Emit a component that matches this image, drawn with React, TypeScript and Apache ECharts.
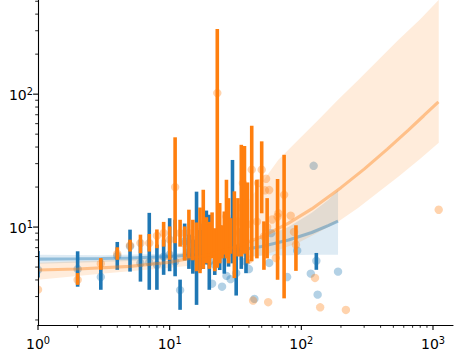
import React, { useEffect, useRef } from "react";
import * as echarts from "echarts";

const X_MIN = 1;
const X_MAX = 1419;
const Y_MIN = 1.833;
const Y_MAX = 511;

const xMajorTicks = [1, 10, 100, 1000];
const xMinorTicks = [2, 3, 4, 5, 6, 7, 8, 9, 20, 30, 40, 50, 60, 70, 80, 90, 200, 300, 400, 500, 600, 700, 800, 900];
const yMajorTicks = [10, 100];
const yMinorTicks = [2, 3, 4, 5, 6, 7, 8, 9, 20, 30, 40, 50, 60, 70, 80, 90, 200, 300, 400, 500];

// [x, mean, ciLow, ciHigh]
const blueBars: number[][] = [
  [1, 4.77, 4.3, 6.4], [2, 4.83, 3.67, 6.37], [3, 4.21, 3.48, 5.51], [4, 6.08, 4.92, 7.49],
  [5, 7.15, 4.77, 9.27], [6, 5.36, 4.01, 7.79], [7, 5.42, 3.48, 12.4], [8, 5.2, 3.48, 7.15],
  [9, 6.0, 4.51, 7.79], [10, 6.2, 4.8, 11.3], [11, 5.5, 4.4, 11.0], [12, 3.35, 2.46, 3.9],
  [13, 7.8, 5.8, 10.3], [14, 6.5, 5.0, 8.5], [15, 5.9, 4.6, 7.8], [16, 7.0, 2.68, 17.9],
  [17, 6.4, 4.9, 9.2], [18, 6.8, 5.0, 10.3], [19, 7.5, 5.4, 12.9], [20, 5.5, 3.48, 12.0],
  [22, 5.2, 4.5, 8.0], [24, 6.9, 4.9, 10.0], [26, 6.2, 4.6, 9.0], [28, 7.4, 5.2, 11.5],
  [30, 9.0, 5.5, 31], [32, 4.5, 3.15, 7.15], [35, 6.6, 5.0, 9.5], [38, 5.5, 4.64, 6.37],
  [130, 5.57, 4.92, 6.19],
];
// [x, y]
const blueSingles: number[][] = [
  [21, 3.75], [25, 3.56], [27, 4.29], [29, 4.06], [40, 4.83], [44, 2.88], [57, 5.37],
  [59, 9.0], [78, 4.21], [93, 6.64], [118, 4.46], [124, 28.9], [133, 3.1], [190, 4.62],
];

const orangeBars: number[][] = [
  [2, 4.01, 3.79, 4.37], [3, 5.3, 4.92, 5.67], [4, 6.29, 5.85, 6.83], [5, 7.27, 6.75, 7.79],
  [6, 7.58, 6.55, 8.5], [7, 7.58, 6.75, 8.6], [8, 8.6, 7.15, 9.3], [9, 9.0, 7.35, 10.6],
  [10, 8.03, 5.85, 9.8], [11, 20, 7.8, 45.9], [12, 9.0, 7.35, 11.0], [13, 7.5, 5.8, 9.8],
  [14, 9.0, 6.0, 13.1], [15, 8.0, 5.8, 11.0], [16, 7.5, 4.8, 10.5], [17, 9.2, 4.64, 13.6],
  [18, 10.5, 5.0, 18.5], [19, 8.0, 5.5, 11.5], [20, 7.4, 5.0, 10.6], [21, 8.5, 6.0, 12.5],
  [22, 6.5, 4.8, 9.5], [23, 102, 5.1, 300], [24, 9.5, 5.5, 14.7], [25, 7.5, 6.0, 10.0],
  [26, 8.5, 6.4, 12.7], [27, 12, 6.0, 22], [28, 9.5, 5.5, 16], [29, 8.0, 6.5, 11.3],
  [31, 9, 4.26, 18], [33, 11, 6.2, 16], [35, 14, 6.2, 40.3], [37, 16, 6.5, 39.5],
  [39, 10.5, 5.5, 21], [42, 27, 5.7, 56], [46, 11, 6.0, 22], [50, 27, 13.1, 42.8],
  [52, 8.5, 4.92, 10.7], [55, 10, 6.0, 16], [66, 12, 4.14, 22.3], [74, 17.5, 3.0, 33.9],
  [91, 7.36, 4.83, 10.0],
];
const orangeSingles: number[][] = [
  [1, 3.38], [36, 21.4], [40, 5.68], [43, 2.8], [47, 21.4], [53, 18.9], [54, 23.1],
  [56, 2.72], [57, 19], [60, 11.4], [64, 5.85], [67, 12.7], [83, 12.2], [88, 9.2],
  [127, 4.14], [139, 2.49], [218, 2.38], [1105, 13.5],
];

// regression fits and confidence bands
const blueFitX = [1, 2, 3, 5, 10, 20, 30, 50, 80, 120, 160, 190];
const blueFitY = [5.74, 5.77, 5.8, 5.85, 6.0, 6.28, 6.56, 7.13, 7.98, 9.1, 10.25, 11.1];
const blueBandX = [1, 3, 10, 20, 30, 50, 80, 120, 160, 190];
const blueBandLow = [5.3, 5.45, 5.7, 5.85, 5.95, 6.1, 6.15, 6.2, 6.2, 6.2];
const blueBandHigh = [6.2, 6.15, 6.3, 6.7, 7.2, 8.3, 10.0, 12.8, 16.0, 19.0];

const orangeFitX = [1, 2, 5, 10, 20, 30, 50, 80, 120, 200, 300, 450, 650, 850, 1100];
const orangeFitY = [4.75, 4.83, 5.06, 5.43, 6.2, 6.95, 8.45, 10.7, 13.7, 19.8, 27.3, 38.6, 53.7, 68.8, 87.5];
const orangeBandX = [1, 3, 10, 17, 30, 40, 52, 67, 95, 135, 190, 271, 384, 545, 800, 1106];
const orangeBandLow = [4.02, 4.46, 4.94, 5.2, 5.5, 5.85, 6.15, 6.72, 7.62, 9.14, 10.96, 13.95, 18.3, 23.9, 32.6, 43.1];
const orangeBandHigh = [5.39, 5.6, 5.91, 7.1, 10.8, 16.0, 22.7, 32.1, 45.3, 64.1, 90.6, 128, 181, 256, 366, 512];

const BLUE = "31,119,180";
const ORANGE = "255,127,14";
const FONT = "DejaVu Sans";

function pointSeries(bars: number[][], singles: number[][], rgb: string, z: number) {
  const data = [...bars.map((b) => [b[0], b[1]]), ...singles.map((s) => [s[0], s[1]])];
  return {
    type: "custom",
    z,
    clip: true,
    silent: true,
    encode: { x: 0, y: 1 },
    data,
    renderItem: (_p: any, api: any) => {
      const c = api.coord([api.value(0), api.value(1)]);
      return {
        type: "circle",
        shape: { cx: c[0], cy: c[1], r: 4.2 },
        style: { fill: `rgba(${rgb},0.34)` },
      };
    },
  };
}

function errSeries(bars: number[][], rgb: string, z: number) {
  return {
    type: "custom",
    z,
    clip: true,
    silent: true,
    encode: { x: 0, y: 1 },
    data: bars,
    renderItem: (_p: any, api: any) => {
      const x = api.value(0);
      const a = api.coord([x, api.value(2)]);
      const b = api.coord([x, api.value(3)]);
      return {
        type: "line",
        shape: { x1: a[0], y1: a[1], x2: b[0], y2: b[1] },
        style: { stroke: `rgb(${rgb})`, lineWidth: 3.6, lineCap: "square" },
      };
    },
  };
}

function bandSeries(xs: number[], lo: number[], hi: number[], rgb: string, z: number) {
  return {
    type: "custom",
    z,
    clip: true,
    silent: true,
    encode: { x: 0, y: 1 },
    data: xs.map((x, i) => [x, lo[i], hi[i]]),
    renderItem: (p: any, api: any) => {
      if (p.dataIndex !== 0) return { type: "group", children: [] };
      const pts: number[][] = [];
      for (let i = 0; i < xs.length; i++) pts.push(api.coord([xs[i], hi[i]]));
      for (let i = xs.length - 1; i >= 0; i--) pts.push(api.coord([xs[i], lo[i]]));
      return {
        type: "polygon",
        shape: { points: pts },
        style: { fill: `rgba(${rgb},0.15)` },
      };
    },
  };
}

function fitSeries(xs: number[], ys: number[], rgb: string, z: number) {
  return {
    type: "line",
    z,
    silent: true,
    showSymbol: false,
    symbol: "none",
    clip: true,
    data: xs.map((x, i) => [x, ys[i]]),
    lineStyle: { color: `rgba(${rgb},0.4)`, width: 3.1 },
  };
}

function xTickSeries() {
  const data = [...xMajorTicks.map((v) => [v, Y_MIN, 1]), ...xMinorTicks.map((v) => [v, Y_MIN, 0])];
  return {
    type: "custom",
    z: 30,
    silent: true,
    encode: { x: 0, y: 1 },
    data,
    renderItem: (_p: any, api: any) => {
      const c = api.coord([api.value(0), Y_MIN]);
      const major = api.value(2) === 1;
      return {
        type: "line",
        shape: { x1: c[0], y1: c[1], x2: c[0], y2: c[1] + (major ? 4.9 : 2.8) },
        style: { stroke: "#000", lineWidth: major ? 1.1 : 0.85 },
      };
    },
  };
}

function yTickSeries() {
  const data = [...yMajorTicks.map((v) => [X_MIN, v, 1]), ...yMinorTicks.map((v) => [X_MIN, v, 0])];
  return {
    type: "custom",
    z: 30,
    silent: true,
    encode: { x: 0, y: 1 },
    data,
    renderItem: (_p: any, api: any) => {
      const c = api.coord([X_MIN, api.value(1)]);
      const major = api.value(2) === 1;
      return {
        type: "line",
        shape: { x1: c[0], y1: c[1], x2: c[0] - (major ? 4.9 : 2.8), y2: c[1] },
        style: { stroke: "#000", lineWidth: major ? 1.1 : 0.85 },
      };
    },
  };
}

const powLabel = (v: number) => {
  const e = Math.log10(v);
  const r = Math.round(e);
  if (Math.abs(e - r) > 1e-6) return "";
  return `{b|10}{s|${r}}`;
};

const rich = {
  b: { fontSize: 14, fontFamily: FONT, color: "#000", verticalAlign: "bottom" },
  s: { fontSize: 9.8, fontFamily: FONT, color: "#000", verticalAlign: "bottom", padding: [0, 0, 6, 0] },
};

const option: any = {
  animation: false,
  backgroundColor: "#fff",
  grid: { left: 38, right: 1, top: 0, bottom: 27, containLabel: false },
  xAxis: {
    type: "log",
    logBase: 10,
    min: X_MIN,
    max: X_MAX,
    z: 40,
    splitLine: { show: false },
    axisTick: { show: false },
    minorTick: { show: false },
    axisLine: { show: true, lineStyle: { color: "#000", width: 1.1 } },
    axisLabel: { formatter: powLabel, rich, margin: 10, fontFamily: FONT, color: "#000" },
  },
  yAxis: {
    type: "log",
    logBase: 10,
    min: Y_MIN,
    max: Y_MAX,
    z: 40,
    splitLine: { show: false },
    axisTick: { show: false },
    minorTick: { show: false },
    axisLine: { show: true, lineStyle: { color: "#000", width: 1.1 } },
    axisLabel: { formatter: powLabel, rich, margin: 5, fontFamily: FONT, color: "#000" },
  },
  series: [
    pointSeries(blueBars, blueSingles, BLUE, 1),
    bandSeries(blueBandX, blueBandLow, blueBandHigh, BLUE, 2),
    pointSeries(orangeBars, orangeSingles, ORANGE, 3),
    bandSeries(orangeBandX, orangeBandLow, orangeBandHigh, ORANGE, 4),
    errSeries(blueBars, BLUE, 5),
    fitSeries(blueFitX, blueFitY, BLUE, 6),
    errSeries(orangeBars, ORANGE, 7),
    fitSeries(orangeFitX, orangeFitY, ORANGE, 8),
    xTickSeries(),
    yTickSeries(),
  ],
};

export default function App() {
  const ref = useRef<HTMLDivElement>(null);
  useEffect(() => {
    if (!ref.current) return;
    const chart = echarts.init(ref.current, null, { renderer: "svg" });
    chart.setOption(option);
    return () => chart.dispose();
  }, []);
  return (
    <div
      ref={ref}
      style={{ position: "fixed", left: 0, top: 0, width: 456, height: 352 }}
    />
  );
}
